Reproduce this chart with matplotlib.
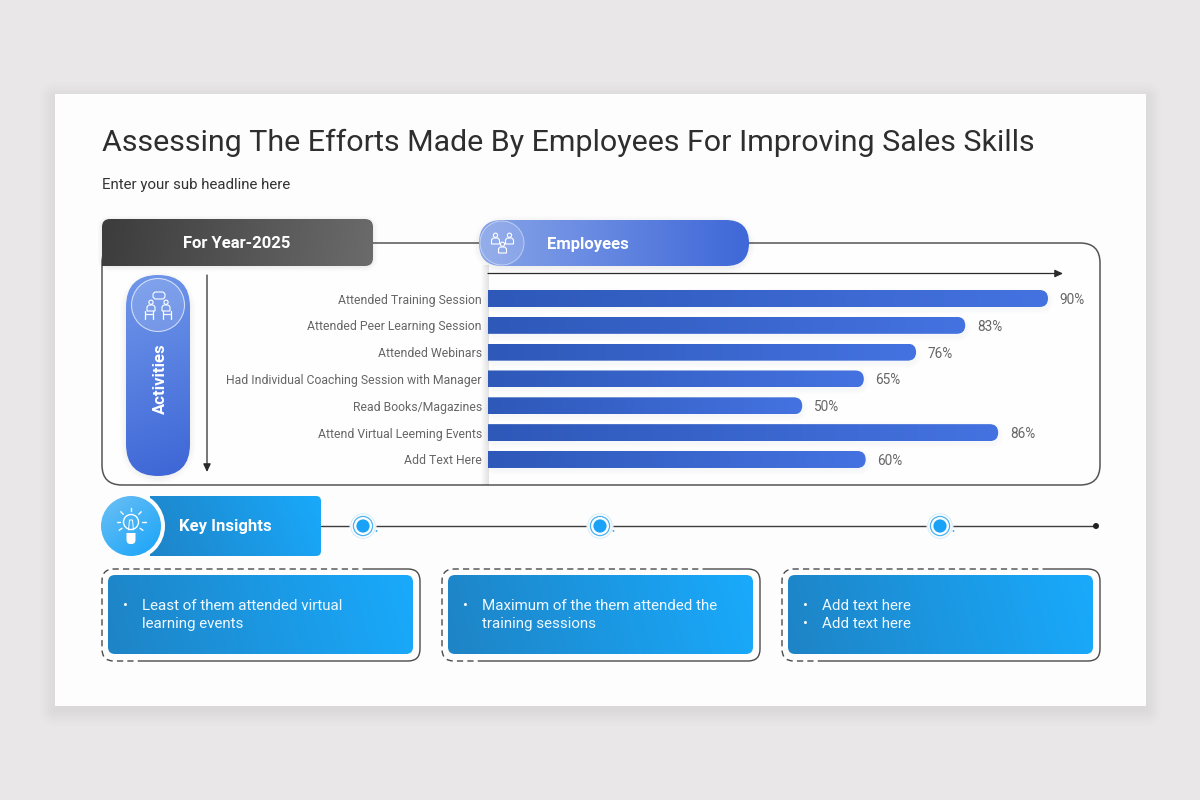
import numpy as np
import matplotlib
matplotlib.use("Agg")
import matplotlib.pyplot as plt
from matplotlib.path import Path
from matplotlib.patches import PathPatch, Circle, FancyArrowPatch
from matplotlib.colors import to_rgb

plt.rcParams['font.family'] = ['Roboto', 'DejaVu Sans']

activities = ["Attended Training Session", "Attended Peer Learning Session", "Attended Webinars",
              "Had Individual Coaching Session with Manager", "Read Books/Magazines",
              "Attend Virtual Leeming Events", "Add Text Here"]
# bar lengths as drawn in the picture (on the scale where the top bar reads 90)
bar_lengths = [90, 76.7, 68.8, 60.4, 50.5, 82, 60.7]
bar_labels = ["90%", "83%", "76%", "65%", "50%", "86%", "60%"]
insight_texts = [["Least of them attended virtual", "learning events"],
                 ["Maximum of the them attended the", "training sessions"],
                 ["Add text here", "Add text here"]]

fig = plt.figure(figsize=(12, 8), dpi=100, facecolor="#e9e7e8")
ov = fig.add_axes([0, 0, 1, 1], zorder=0)
ov.set_axis_off()
XL, YL = (0, 1200), (800, 0)
ov.set_xlim(XL); ov.set_ylim(YL)


def rpath(x0, y0, x1, y1, r):
    """Rounded rectangle; r = (tl, tr, br, bl) radii in pixels."""
    if np.isscalar(r):
        r = (r, r, r, r)
    tl, tr, br, bl = r
    v = [(x0 + tl, y0), (x1 - tr, y0), (x1, y0), (x1, y0 + tr), (x1, y1 - br), (x1, y1), (x1 - br, y1),
         (x0 + bl, y1), (x0, y1), (x0, y1 - bl), (x0, y0 + tl), (x0, y0), (x0 + tl, y0), (x0 + tl, y0)]
    c = [Path.MOVETO, Path.LINETO, Path.CURVE3, Path.CURVE3, Path.LINETO, Path.CURVE3, Path.CURVE3,
         Path.LINETO, Path.CURVE3, Path.CURVE3, Path.LINETO, Path.CURVE3, Path.CURVE3, Path.CLOSEPOLY]
    return Path(v, c)


def gradient(path, c0, c1, angle=0, z=3):
    """Fill a pixel-space path with a linear gradient from c0 to c1 (angle in degrees, 0 = to the right, 90 = down)."""
    b = path.get_extents()
    n = 80
    yy, xx = np.mgrid[0:1:n * 1j, 0:1:n * 1j]
    a = np.deg2rad(angle)
    t = xx * np.cos(a) * b.width + yy * np.sin(a) * b.height
    t = (t - t.min()) / (t.max() - t.min())
    img = np.array(to_rgb(c0))[None, None] * (1 - t[..., None]) + np.array(to_rgb(c1))[None, None] * t[..., None]
    im = ov.imshow(img, extent=(b.x0, b.x1, b.y1, b.y0), origin="upper", aspect="auto",
                   interpolation="bilinear", zorder=z)
    p = PathPatch(path, transform=ov.transData, fc="none", ec="none")
    ov.add_patch(p)
    im.set_clip_path(p)


def shadow(x0, y0, x1, y1, r=0, s=14, a=0.16, dy=3, z=1, col="#000000"):
    m = s * 2
    X0, X1, Y0, Y1 = x0 - m, x1 + m, y0 - m + dy, y1 + m + dy
    w, h = int(X1 - X0), int(Y1 - Y0)
    yy, xx = np.mgrid[0:h, 0:w]
    xx = xx + X0 + .5
    yy = yy + Y0 + .5 - dy
    cx, cy = (x0 + x1) / 2, (y0 + y1) / 2
    qx = np.abs(xx - cx) - (x1 - x0) / 2 + r
    qy = np.abs(yy - cy) - (y1 - y0) / 2 + r
    d = np.hypot(np.maximum(qx, 0), np.maximum(qy, 0)) + np.minimum(np.maximum(qx, qy), 0) - r
    t = np.clip((d + s * .3) / (s * 1.3), 0, 1)
    al = a * (1 - t * t * (3 - 2 * t))
    img = np.zeros((h, w, 4))
    img[..., :3] = to_rgb(col)
    img[..., 3] = al
    ov.imshow(img, extent=(X0, X1, Y1, Y0), origin="upper", aspect="auto", interpolation="bilinear", zorder=z)


def line(xs, ys, c="white", lw=1.0, z=6, **k):
    ov.plot(xs, ys, color=c, lw=lw, zorder=z, solid_capstyle="round", **k)


def circ(x, y, r, fc="none", ec="none", lw=1.0, z=6):
    ov.add_patch(Circle((x, y), r, fc=fc, ec=ec, lw=lw, zorder=z))


def person(x, y, s, z=7, c="white"):
    circ(x, y - s * 0.75, s * 0.42, ec=c, lw=0.8, z=z)
    ov.add_patch(PathPatch(rpath(x - s * .8, y - s * .2, x + s * .8, y + s * 1.0, (s * .55, s * .55, 0, 0)),
                           fc="none", ec=c, lw=0.8, zorder=z))


# card
shadow(55, 94, 1146, 706, 0, s=20, a=0.07, dy=4, z=1)
ov.add_patch(PathPatch(rpath(55, 94, 1146, 706, 0.01), fc="#fdfdfd", ec="none", zorder=2))

ov.text(102, 142.5, "Assessing The Efforts Made By Employees For Improving Sales Skills", fontsize=21.87,
        color="#2e2e2e", va="center", ha="left", zorder=5)
ov.text(102, 185, "Enter your sub headline here", fontsize=10.8, color="#333333", va="center", ha="left", zorder=5)

# chart frame
ov.add_patch(PathPatch(rpath(102, 243, 1100, 485, 20), fc="#fefefe", ec="#555555", lw=1.1, zorder=3))

# For Year header
shadow(102, 219, 373, 266, 8, s=6, a=0.07, dy=1, z=3.5)
gradient(rpath(102, 219, 373, 266, (8, 8, 8, 0)), "#3c3c3c", "#6b6b6b", 10, z=4)
ov.text(237, 243.5, "For Year-2025", fontsize=12, fontweight="bold", color="white", ha="center", va="center", zorder=5)

# Employees pill
shadow(479, 220, 749, 266, 23, s=8, a=0.06, dy=2, z=3.5)
gradient(rpath(479, 220, 749, 266, 23), "#86a3e8", "#3f68d8", 0, z=4)
ov.text(588, 244.5, "Employees", fontsize=12, fontweight="bold", color="white", ha="center", va="center", zorder=5)
circ(502, 243, 22, fc="#ffffff1f", ec="#ffffff77", lw=0.7, z=5)
person(495.5, 239, 5); person(509.5, 239, 5); person(502.5, 248, 5)

# Activities pill
shadow(126, 275, 190, 476, 32, s=8, a=0.06, dy=2, z=3.5)
gradient(rpath(126, 275, 190, 476, 32), "#7097ea", "#3d66d6", 70, z=4)
circ(158, 305, 26.5, fc="#ffffff22", ec="#ffffffaa", lw=0.8, z=5)
person(151, 306, 5); person(166, 306, 5)
ov.add_patch(PathPatch(rpath(153, 292, 165, 299, 3), fc="none", ec="white", lw=0.8, zorder=7))
line([145, 145], [311, 319], lw=.9, z=7); line([153, 153], [311, 319], lw=.9, z=7)
line([145, 153], [314, 314], lw=.9, z=7)
line([163, 163], [311, 319], lw=.9, z=7); line([171, 171], [311, 319], lw=.9, z=7)
line([163, 171], [314, 314], lw=.9, z=7)
ov.text(160, 379, "Activities", rotation=90, fontsize=12, fontweight="bold", color="white",
        ha="center", va="center", zorder=5)

# axis arrows
for a, b in [((207, 275), (207, 472)), ((488, 273.5), (1063, 273.5))]:
    ov.add_patch(FancyArrowPatch(a, b, arrowstyle="-|>,head_length=0.32,head_width=0.15", mutation_scale=15,
                                 color="#2a2a2a", lw=0.9, shrinkA=0, shrinkB=0, zorder=5))

# soft vertical edge left of the bars
img = np.zeros((1, 12, 4))
img[..., 3] = np.linspace(0, 0.11, 12)
ov.imshow(img, extent=(480, 489, 485, 265), aspect="auto", origin="upper", interpolation="bilinear", zorder=3.2)

# bars: the axes runs 0..100 across 622 pixels from x=488
rowh = 26.83
bax = fig.add_axes([488 / 1200, 1 - (298.5 + 6.5 * rowh) / 800, 622.2 / 1200, 7 * rowh / 800], zorder=1)
bax.patch.set_alpha(0)
bax.set_xlim(0, 100)
bax.set_ylim(6.5, -0.5)
bars = bax.barh(range(len(bar_lengths)), bar_lengths, height=17 / rowh, color="none")
bax.set_yticks(range(len(activities)), activities, fontsize=8.82, color="#666666", va="center_baseline")
bax.set_xticks([])
bax.tick_params(axis="y", length=0, pad=4.4)
for s in bax.spines.values():
    s.set_visible(False)
for t in bax.bar_label(bars, labels=bar_labels, padding=8.5, fontsize=9.8, color="#666666"):
    t.xyann = (t.xyann[0], -1.0)
for bar in bars:
    e = bar.get_window_extent()
    x0, x1, y0, y1 = e.x0, e.x1, 800 - e.y1, 800 - e.y0
    shadow(x0, y0, x1, y1, 8, s=6, a=0.035, dy=3, z=3.3, col="#1a2a60")
    gradient(rpath(x0, y0, x1, y1, (0, 8.5, 8.5, 0)), "#2e59b9", "#4472e0", 0, z=4)

# Key insights
gradient(rpath(150, 496, 321, 556, (0, 5, 5, 0)), "#1e84c8", "#19a9fb", -25, z=4)
circ(131, 526, 34, fc="#fdfdfd", z=4.5)
p = Path.circle((131, 526), 30)
gradient(p, "#6cc0f5", "#18a4f8", 50, z=5)
ov.text(179, 526.5, "Key Insights", fontsize=12, fontweight="bold", color="white", ha="left", va="center", zorder=6)
circ(131, 522, 7.5, ec="white", lw=1.0, z=7)
ov.add_patch(PathPatch(rpath(126.5, 533, 135.5, 544, (0, 0, 4, 4)), fc="white", ec="none", zorder=7))
for ang in np.arange(-180, 1, 45):
    ca, sa = np.cos(np.deg2rad(ang)), np.sin(np.deg2rad(ang))
    line([131 + 11 * ca, 131 + 14.5 * ca], [522 + 11 * sa, 522 + 14.5 * sa], lw=1.0, z=7)
for ang in [35, 145]:
    ca, sa = np.cos(np.deg2rad(ang)), np.sin(np.deg2rad(ang))
    line([131 + 11 * ca, 131 + 14.5 * ca], [522 + 11 * sa, 522 + 14.5 * sa], lw=1.0, z=7)
line([128.5, 129.5, 132.5, 133.5], [530, 520, 520, 530], lw=.7, z=7)

# timeline
line([321, 1096], [526, 526], c="#3c3c3c", lw=1.0, z=3)
circ(1096, 526, 3, fc="#222222", z=4)
for x in [363, 600, 940]:
    circ(x, 526, 13.5, fc="#fdfdfd", z=3.5)
    circ(x, 526, 12.3, ec="#cfe9fb", lw=.6, z=4)
    circ(x, 526, 9.6, ec="#4bb3f2", lw=.9, z=4)
    circ(x, 526, 6.6, fc="#1aa3f6", z=4)
    circ(x + 13.5, 531, 0.9, fc="#2aa5ef", z=4)

# insight boxes
for x0, lines_ in zip([102, 442, 782], insight_texts):
    x1 = x0 + 318
    y0, y1, r = 569, 661, 12
    solid = Path([(x0 + 262, y0), (x1 - r, y0), (x1, y0), (x1, y0 + r), (x1, y1 - r), (x1, y1), (x1 - r, y1), (x0 + 42, y1)],
                 [Path.MOVETO, Path.LINETO, Path.CURVE3, Path.CURVE3, Path.LINETO, Path.CURVE3, Path.CURVE3, Path.LINETO])
    dashed = Path([(x0 + 42, y1), (x0 + r, y1), (x0, y1), (x0, y1 - r), (x0, y0 + r), (x0, y0), (x0 + r, y0), (x0 + 262, y0)],
                  [Path.MOVETO, Path.LINETO, Path.CURVE3, Path.CURVE3, Path.LINETO, Path.CURVE3, Path.CURVE3, Path.LINETO])
    ov.add_patch(PathPatch(solid, fc="none", ec="#4a4a4a", lw=1.0, zorder=3))
    ov.add_patch(PathPatch(dashed, fc="none", ec="#4a4a4a", lw=1.0, ls=(0, (4.5, 3)), zorder=3))
    gradient(rpath(x0 + 6, 575, x0 + 311, 654, 7), "#1e84c6", "#19aafc", -15, z=4)
    ov.text(x0 + 23, 606, "•", fontsize=10.5, color="white", ha="center", va="center", zorder=5)
    if lines_[0] == lines_[1]:
        ov.text(x0 + 23, 624, "•", fontsize=10.5, color="white", ha="center", va="center", zorder=5)
    ov.text(x0 + 40, 606, lines_[0], fontsize=10.9, color="#eef8ff", ha="left", va="center", zorder=5)
    ov.text(x0 + 40, 624, lines_[1], fontsize=10.9, color="#eef8ff", ha="left", va="center", zorder=5)

ov.set_xlim(XL); ov.set_ylim(YL)
fig.savefig("out.png", dpi=100, facecolor=fig.get_facecolor())
